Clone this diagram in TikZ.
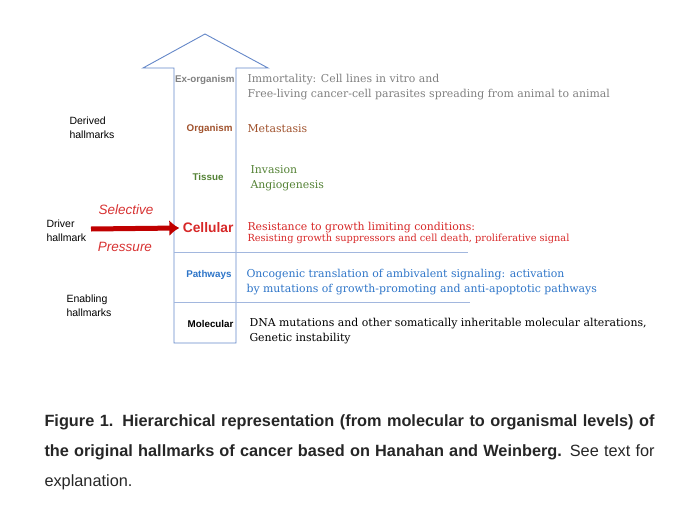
\documentclass[tikz,border=0pt]{standalone}
\usepackage{fontspec}
\usetikzlibrary{arrows.meta}
\setmainfont{Liberation Sans}
\newfontfamily\slab{DejaVu Serif}
\begin{document}
\begin{tikzpicture}[x=1pt,y=-1pt,
  lvl/.style={font=\fontsize{9.8}{10}\selectfont\bfseries, anchor=east},
  side/.style={font=\fontsize{10.5}{14}\selectfont, align=left, anchor=west},
  desc/.style={font=\slab\fontsize{10.9}{14.5}\selectfont, align=left, anchor=west},
  sel/.style={font=\itshape\fontsize{13.5}{14}\selectfont, text=selred}]
\definecolor{gr}{RGB}{128,128,128}
\definecolor{br}{RGB}{160,82,45}
\definecolor{gn}{RGB}{84,130,53}
\definecolor{rd}{RGB}{215,40,40}
\definecolor{bl}{RGB}{46,117,200}
\definecolor{ol}{RGB}{100,135,200}
\definecolor{selred}{RGB}{215,50,50}
\definecolor{dred}{RGB}{192,0,0}
\useasboundingbox (0,0) rectangle (700,527);
\draw[ol, line width=0.9pt] (174,343) -- (174,68) -- (143,68) -- (205,34) -- (268,68) -- (236,68) -- (236,343) -- cycle;
\draw[ol!60, line width=0.7pt] (174,252) -- (468,252);
\draw[ol!60, line width=0.7pt] (174,302) -- (470,302);
\node[lvl, text=gr] (l1) at (238,80) {Ex-organism};
\node[lvl, text=br] (l2) at (236,129) {Organism};
\node[lvl, text=gn] (l3) at (227,177) {Tissue};
\node[lvl, text=rd, font=\fontsize{13.8}{14}\selectfont\bfseries] (l4) at (237,228) {Cellular};
\node[lvl, text=bl] (l5) at (235,275) {Pathways};
\node[lvl, text=black] (l6) at (237,324) {Molecular};
\node[desc, text=gr] (d1) at (244,87) {Immortality: Cell lines in vitro and\\Free-living cancer-cell parasites spreading from animal to animal};
\node[desc, text=br] (d2) at (244,129) {Metastasis};
\node[desc, text=gn] (d3) at (247,178) {Invasion\\Angiogenesis};
\node[desc, text=rd, align=left] (d4) at (244,233) {Resistance to growth limiting conditions:\\[-3pt]{\fontsize{9.8}{11}\selectfont Resisting growth suppressors and cell death, proliferative signal}};
\node[desc, text=bl] (d5) at (243,282) {Oncogenic translation of ambivalent signaling: activation\\by mutations of growth-promoting and anti-apoptotic pathways};
\node[desc, text=black] (d6) at (246,331) {DNA mutations and other somatically inheritable molecular alterations,\\Genetic instability};
\node[side] (s1) at (66,128) {Derived\\hallmarks};
\node[side] (s2) at (43,231) {Driver\\hallmark};
\node[side] (s3) at (63,306) {Enabling\\hallmarks};
\node[sel] (p1) at (126,210) {Selective};
\node[sel] (p2) at (125,247) {Pressure};
\coordinate (a0) at (91,229);
\draw[dred, line width=5pt, -{Latex[length=10pt,width=16pt]}] (a0) -- (l4.west);
\node[anchor=north west, text width=610pt, align=justify, font=\fontsize{16.3}{30}\selectfont, text=black!85] (cap) at (41,411)
{\hyphenpenalty=10000\tolerance=10000\textbf{Figure 1. Hierarchical representation (from molecular to organismal levels) of the original hallmarks of cancer based on Hanahan and Weinberg.} See text for explanation.};
\end{tikzpicture}
\end{document}
